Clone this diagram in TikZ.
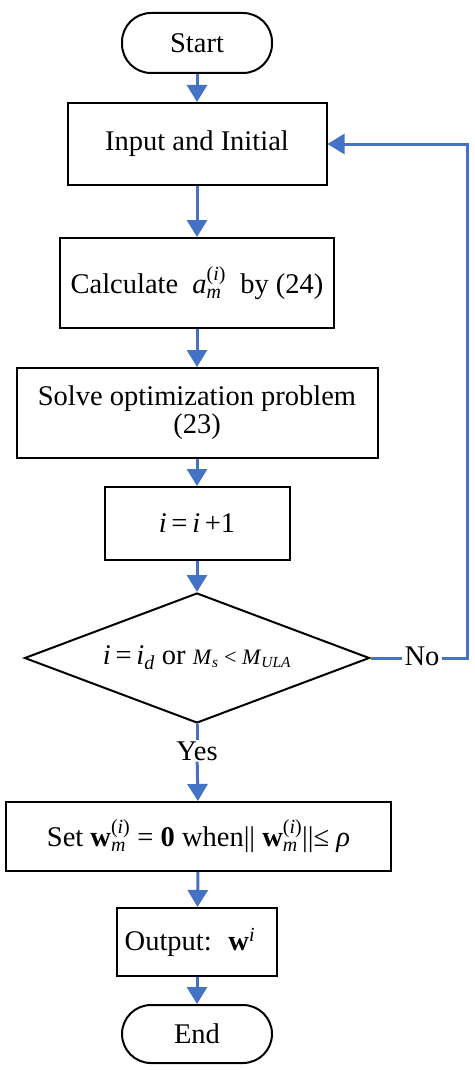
\documentclass[tikz,border=0pt]{standalone}
\usepackage{amsmath}
\usepackage{fontspec}
\setmainfont{Liberation Serif}
\usetikzlibrary{shapes.geometric,arrows.meta}
\definecolor{flowblue}{RGB}{68,114,196}
\newcommand\tv[1]{\textit{#1}}
\newcommand\supi{\text{(}\tv{i}\text{)}}
\begin{document}
\begin{tikzpicture}[x=1pt,y=-1pt,
  every node/.style={font=\fontsize{28.5}{32}\selectfont},
  box/.style={draw=black,line width=2pt,rectangle,inner sep=0pt,align=center},
  term/.style={draw=black,line width=2pt,rectangle,rounded corners=29pt,inner sep=0pt},
  decide/.style={draw=black,line width=2pt,diamond,inner sep=0pt,aspect=2.65},
  flow/.style={draw=flowblue,line width=3pt,-{Triangle[width=20pt,length=17pt]}},
  link/.style={draw=flowblue,line width=3pt}]
\useasboundingbox (0,0) rectangle (474,1070);
\node[term,minimum width=150pt,minimum height=60pt] (start) at (197,43) {Start};
\node[box,minimum width=259pt,minimum height=82pt] (input) at (197,144) {Input and Initial};
\node[box,minimum width=274pt,minimum height=90pt] (calc) at (197,283) {Calculate \ $\tv{a}_{\tv{m}}^{\supi}$ \ by (24)};
\node[box,minimum width=361pt,minimum height=90pt] (solve) at (197,413) {Solve optimization problem\\[-4pt](23)};
\node[box,minimum width=185pt,minimum height=73pt] (inc) at (197,523.5) {\tv{i}\,=\,\tv{i}\,+1};
\node[decide,minimum width=345pt,minimum height=130pt] (dia) at (197,658) {\tv{i}\,=\,$\tv{i}_{\tv{d}}$ or {\fontsize{22}{26}\selectfont\tv{M}$_{\tv{s}}$ < \tv{M}$_{\tv{ULA}}$}};
\node[inner sep=1pt] (yes) at (197,751) {Yes};
\node[box,minimum width=385pt,minimum height=69pt] (set) at (198.5,836.5) {Set $\textbf{w}_{\tv{m}}^{\supi}$ = \textbf{0} when|| $\textbf{w}_{\tv{m}}^{\supi}$||≤ \tv{ρ}};
\node[box,minimum width=160pt,minimum height=68pt] (out) at (197,942) {Output: \ $\textbf{w}^{\tv{i}}$\ \ };
\node[term,minimum width=150pt,minimum height=58pt] (end) at (197,1034) {End};
\node[inner sep=2pt] (no) at (422,656) {No};
\coordinate (c1) at (467,658);
\coordinate (c2) at (467,144);
\draw[flow] (start) -- (input);
\draw[flow] (input) -- (calc);
\draw[flow] (calc) -- (solve);
\draw[flow] (solve) -- (inc);
\draw[flow] (inc) -- (dia);
\draw[link] (dia.south) -- (yes.north);
\draw[flow] (yes) -- (set);
\draw[flow] (set) -- (out);
\draw[flow] (out) -- (end);
\draw[link] (dia.east) -- (dia.east -| no.west);
\draw[flow] (dia.east -| no.east) -- (c1) -- (c2) -- (input.east);
\end{tikzpicture}
\end{document}
